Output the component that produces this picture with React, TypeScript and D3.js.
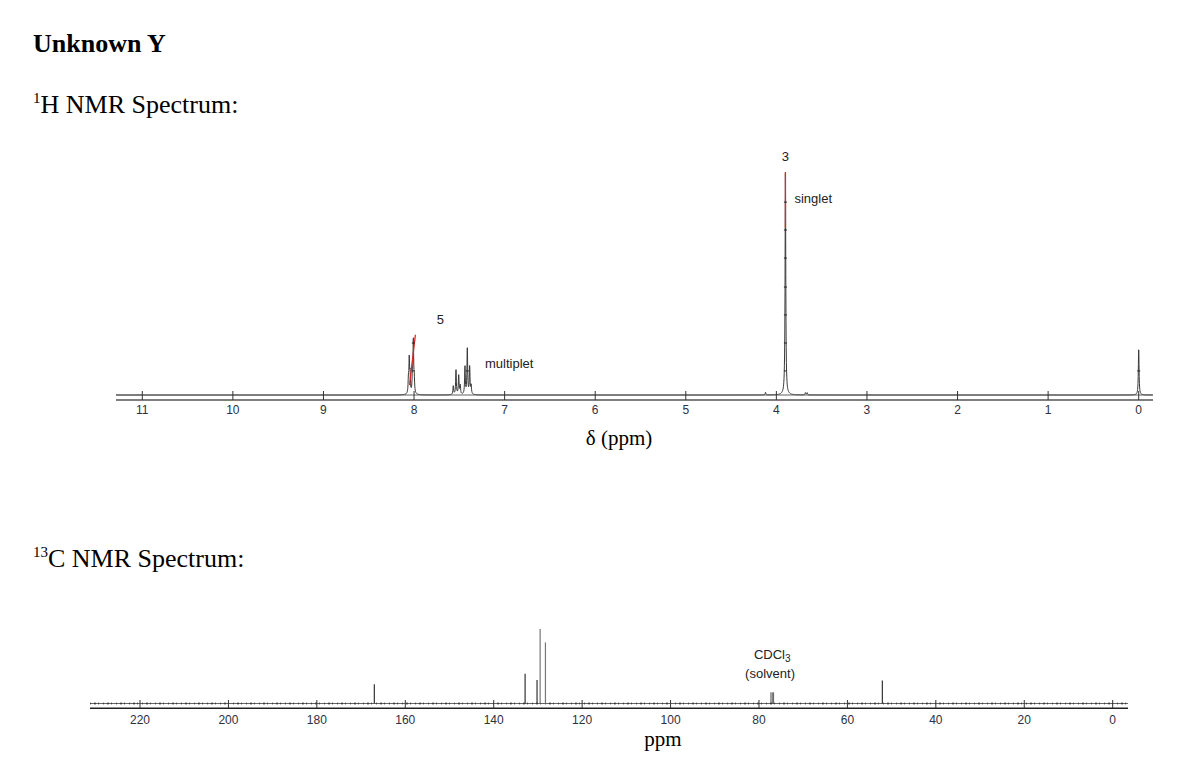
import React from 'react';
import * as d3 from 'd3';

// ---------- Data ----------
const hTicks = [11, 10, 9, 8, 7, 6, 5, 4, 3, 2, 1, 0];
const hPeakPpm = [8.062, 8.053, 8.044, 8.018, 8.008, 7.998, 7.567, 7.537, 7.507, 7.49, 7.438, 7.412, 7.386, 7.37, 4.12, 3.9, 3.68, 3.66, 0.0];
const hPeakInt = [6, 15, 8, 8, 24, 6, 4, 11, 9, 4, 12.5, 21.5, 12.5, 4, 1.2, 100, 1, 1, 21.5];
const hIntegralLevels = [10.8, 23.3, 35.9, 48.4, 61.4, 74, 86.5];

const hLabels = [
  { text: '3', ppm: 3.9, int: 107 },
  { text: '5', ppm: 7.71, int: 34 },
];
const hNotes = [
  { text: 'singlet', ppm: 3.8, int: 88 },
  { text: 'multiplet', ppm: 7.217, int: 14 },
];

const cTicks = [220, 200, 180, 160, 140, 120, 100, 80, 60, 40, 20, 0];
const cPeakPpm = [167.0, 132.9, 130.2, 129.5, 128.3, 77.3, 77.0, 76.7, 52.1];
const cPeakInt = [26, 40, 31.5, 100, 82, 15, 15, 15, 31];

// ---------- Geometry ----------
const W = 1192;
const H = 778;

const xH = d3.scaleLinear().domain([11, 0]).range([142.3, 1138.7]);
const yH = d3.scaleLinear().domain([0, 100]).range([395, 172]);
const hBaseY = 395;
const hAxisY = 400;
const hX0 = 116;
const hX1 = 1153;

const xC = d3.scaleLinear().domain([220, 0]).range([140, 1112.7]);
const yC = d3.scaleLinear().domain([0, 100]).range([703.5, 629]);
const cAxisY = 708.3;
const cX0 = 90;
const cX1 = 1128;

const gammaPx = 0.4;

function hSpectrumPath(): string {
  const pts: [number, number][] = [];
  for (let px = hX0; px <= hX1; px += 0.2) {
    let s = 0;
    for (let i = 0; i < hPeakPpm.length; i++) {
      const d = px - xH(hPeakPpm[i]);
      s += hPeakInt[i] * (gammaPx * gammaPx) / (gammaPx * gammaPx + d * d);
    }
    pts.push([px, yH(s)]);
  }
  return d3.line()(pts) || '';
}

const sans = 'Arial, "Liberation Sans", Helvetica, sans-serif';
const serif = '"Times New Roman", "Liberation Serif", Times, serif';
const tickColor = '#2d3040';

export default function App() {
  const hPath = hSpectrumPath();
  const singletX = xH(3.9);

  const markPeaks = [
    { ppm: 3.9, int: 100 },
    { ppm: 8.008, int: 27 },
    { ppm: 7.412, int: 23 },
    { ppm: 0.0, int: 22 },
  ];

  return (
    <svg width={W} height={H} style={{ position: 'absolute', left: 0, top: 0, background: '#fff' }}>
      {/* Titles */}
      <text x={33} y={52} fontFamily={serif} fontWeight="bold" fontSize={26} fill="#000">Unknown Y</text>
      <text x={33} y={113} fontFamily={serif} fontSize={26} fill="#000">
        <tspan fontSize={15} dy={-10}>1</tspan>
        <tspan dy={10}>H NMR Spectrum:</tspan>
      </text>
      <text x={33} y={567} fontFamily={serif} fontSize={26} fill="#000">
        <tspan fontSize={15} dy={-10}>13</tspan>
        <tspan dy={10}>C NMR Spectrum:</tspan>
      </text>

      {/* ---------- 1H spectrum ---------- */}
      <line x1={hX0} x2={hX1} y1={hBaseY} y2={hBaseY} stroke="#b0b0b0" strokeWidth={2} />
      <path d={hPath} fill="none" stroke="#3a3a3a" strokeWidth={1} />
      {/* integral overlays (red) */}
      <line x1={singletX} x2={singletX} y1={yH(100)} y2={yH(75)} stroke="#d42a2a" strokeWidth={1.3} />
      <line x1={xH(8.05)} x2={xH(7.985)} y1={yH(4.5)} y2={yH(27)} stroke="#d42a2a" strokeWidth={1.3} />
      {markPeaks.map((p, i) =>
        hIntegralLevels.filter((l) => l < p.int - 1).map((l, j) => (
          <line key={`m${i}-${j}`} x1={xH(p.ppm) - 1.5} x2={xH(p.ppm) + 1.5} y1={yH(l)} y2={yH(l)} stroke="#222" strokeWidth={1} />
        ))
      )}
      {/* axis */}
      <line x1={hX0} x2={hX1} y1={hAxisY} y2={hAxisY} stroke="#555" strokeWidth={1.5} />
      {hTicks.map((t) => (
        <g key={`ht${t}`}>
          <line x1={xH(t)} x2={xH(t)} y1={391} y2={hAxisY} stroke="#333" strokeWidth={1} />
          <text x={xH(t)} y={413.5} textAnchor="middle" fontFamily={sans} fontSize={12} fill={tickColor}>{t}</text>
        </g>
      ))}
      {hLabels.map((l) => (
        <text key={l.text} x={xH(l.ppm)} y={yH(l.int) + 5} textAnchor="middle" fontFamily={sans} fontSize={13} fill="#222">{l.text}</text>
      ))}
      {hNotes.map((l) => (
        <text key={l.text} x={xH(l.ppm)} y={yH(l.int) + 4.5} fontFamily={sans} fontSize={13} fill="#222">{l.text}</text>
      ))}
      <text x={619} y={445} textAnchor="middle" fontFamily={serif} fontSize={21} fill="#000">δ (ppm)</text>

      {/* ---------- 13C spectrum ---------- */}
      <line x1={cX0} x2={cX1} y1={yC(0)} y2={yC(0)} stroke="#666" strokeWidth={1} />
      <line x1={cX0} x2={cX1} y1={yC(0)} y2={yC(0)} stroke="#222" strokeWidth={2} strokeDasharray="1 3 2 2 1 4" opacity={0.6} />
      {cPeakPpm.map((p, i) => (
        <line key={`cp${i}`} x1={xC(p)} x2={xC(p)} y1={yC(0)} y2={yC(cPeakInt[i])} stroke={cPeakInt[i] > 60 ? '#777' : '#333'} strokeWidth={cPeakInt[i] < 20 ? 0.8 : 1.2} />
      ))}
      <line x1={cX0} x2={cX1} y1={cAxisY} y2={cAxisY} stroke="#222" strokeWidth={1.5} />
      {cTicks.map((t) => (
        <g key={`ct${t}`}>
          <line x1={xC(t)} x2={xC(t)} y1={700} y2={cAxisY} stroke="#333" strokeWidth={1} />
          <text x={xC(t)} y={724} textAnchor="middle" fontFamily={sans} fontSize={12} fill={tickColor}>{t}</text>
        </g>
      ))}
      <text x={xC(77)} y={659} textAnchor="middle" fontFamily={sans} fontSize={13} fill="#222">
        CDCl<tspan fontSize={10} dy={3}>3</tspan>
      </text>
      <text x={xC(77.5)} y={678} textAnchor="middle" fontFamily={sans} fontSize={13} fill="#222">(solvent)</text>
      <text x={663} y={746} textAnchor="middle" fontFamily={serif} fontSize={21} fill="#000">ppm</text>
    </svg>
  );
}
